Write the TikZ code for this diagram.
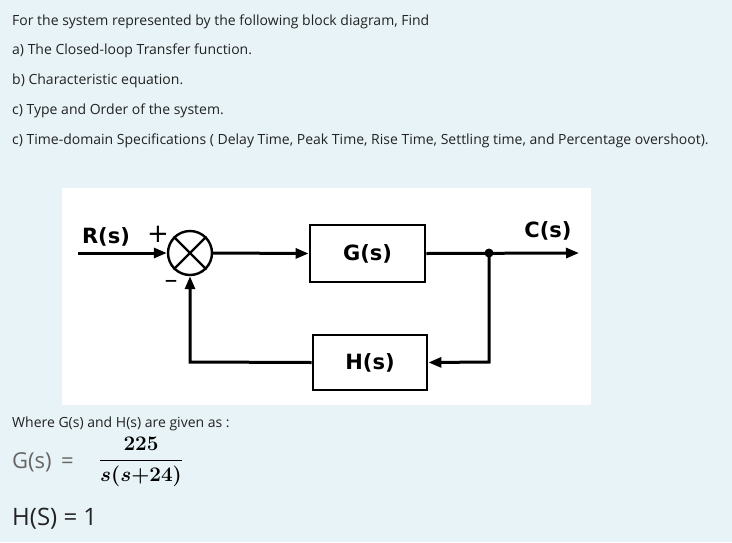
\documentclass[tikz,border=0pt]{standalone}
\usepackage{amsmath}
\usepackage{fontspec}
\setmainfont{Open Sans}
\newfontfamily\djfont{DejaVu Sans}
\usetikzlibrary{arrows.meta}
\definecolor{bg}{HTML}{E8F3F7}
\definecolor{txt}{HTML}{222222}
\begin{document}
\begin{tikzpicture}[x=1pt,y=-1pt,
  q/.style={anchor=west,inner sep=0,text=txt,font=\fontsize{14}{16}\selectfont},
  blk/.style={draw,line width=2.8pt,inner sep=0},
  lbl/.style={font=\djfont\bfseries\fontsize{21}{24}\selectfont,inner sep=0},
  wire/.style={line width=3pt},
  arr/.style={wire,-{Triangle[length=13pt,width=10pt]}}]
\fill[bg] (0,0) rectangle (732,542);
\useasboundingbox (0,0) rectangle (732,542);
\node[q] (t1) at (12,22) {For the system represented by the following block diagram, Find};
\node[q] (t2) at (12,51) {a) The Closed-loop Transfer function.};
\node[q] (t3) at (12,81) {b) Characteristic equation.};
\node[q] (t4) at (12,111) {c) Type and Order of the system.};
\node[q] (t5) at (12,141) {c) Time-domain Specifications ( Delay Time, Peak Time, Rise Time, Settling time, and Percentage overshoot).};
\fill[white] (62,188) rectangle (591,405);
\node[draw,circle,line width=2.4pt,minimum size=44pt,inner sep=0] (sum) at (190,253) {};
\draw[line width=2.4pt] (sum.45)--(sum.225) (sum.135)--(sum.-45);
\node[blk,minimum width=115pt,minimum height=57pt,lbl] (G) at (367.5,253.5) {G(s)};
\node[blk,minimum width=114pt,minimum height=55pt,lbl] (H) at (370,362.5) {H(s)};
\node[lbl] (R) at (106,237) {R(s)};
\node[lbl] (C) at (548,231) {C(s)};
\node[font=\djfont\fontsize{26}{26}\selectfont,inner sep=0] (plus) at (158,234) {+};
\node[font=\djfont\fontsize{26}{26}\selectfont,inner sep=0] (minus) at (171,284) {\textendash};
\coordinate (in) at (78,253);
\coordinate (out) at (579,253);
\coordinate (dot) at (489,253);
\coordinate (c1) at (489,362);
\coordinate (c2) at (190,362);
\draw[arr] (in)--(sum.west);
\draw[arr] (sum.east)--(G.west);
\draw[arr] (G.east)--(out);
\fill (dot) circle (4.5pt);
\draw[arr] (dot)--(c1)--(H.east);
\draw[arr] (H.west)--(c2)--(sum.south);
\node[q] (w) at (12,424) {Where G(s) and H(s) are given as :};
\node[q,font=\fontsize{22}{26}\selectfont,text=black!60] (g) at (12,462) {G(s) \,=};
\node[inner sep=0] (frac) at (141,462) {\fontsize{20}{24}\selectfont$\boldsymbol{\dfrac{225}{s(s{+}24)}}$};
\node[q,font=\fontsize{24}{28}\selectfont] (h) at (12,519) {H(S) = 1};
\end{tikzpicture}
\end{document}
